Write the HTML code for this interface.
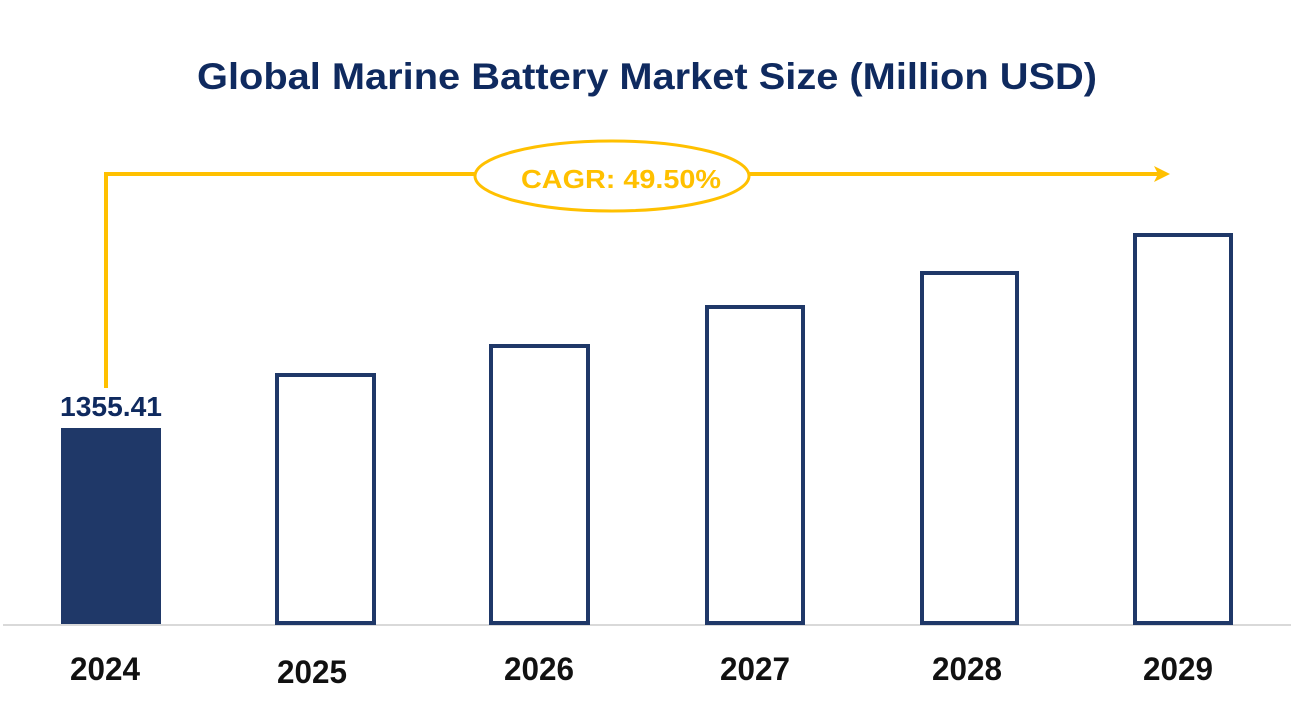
<!DOCTYPE html>
<html><head><style>body{margin:0;background:#fff}</style></head><body>
<svg width="1294" height="721" xmlns="http://www.w3.org/2000/svg" style="display:block">
<rect width="1294" height="721" fill="#fff"/>
<text x="647" y="89" text-anchor="middle" font-family="Liberation Sans Narrow, Liberation Sans, sans-serif" font-weight="bold" font-size="37" fill="#0f2a5f" textLength="900" lengthAdjust="spacingAndGlyphs">Global Marine Battery Market Size (Million USD)</text>
<line x1="3" y1="625" x2="1291" y2="625" stroke="#d9d9d9" stroke-width="2"/>
<rect x="61" y="428" width="100" height="196" fill="#1f3868"/>
<g fill="none" stroke="#1f3868" stroke-width="4">
<rect x="277" y="375" width="97" height="248"/>
<rect x="491" y="346" width="97" height="277"/>
<rect x="707" y="307" width="96" height="316"/>
<rect x="922" y="273" width="95" height="350"/>
<rect x="1135" y="235" width="96" height="388"/>
</g>
<text x="111" y="416" text-anchor="middle" font-family="Liberation Sans Narrow, Liberation Sans, sans-serif" font-weight="bold" font-size="28" fill="#0f2a5f" textLength="102" lengthAdjust="spacingAndGlyphs">1355.41</text>
<g fill="none" stroke="#ffc000" stroke-width="4">
<polyline points="106,388 106,174 476,174"/>
<line x1="748" y1="174" x2="1162" y2="174"/>
<ellipse cx="612" cy="176" rx="137" ry="35" stroke-width="3"/>
</g>
<polygon points="1170,174 1154,166 1158,174 1154,182" fill="#ffc000"/>
<text x="621" y="188" text-anchor="middle" font-family="Liberation Sans, sans-serif" font-weight="bold" font-size="26" fill="#ffc000" textLength="200" lengthAdjust="spacingAndGlyphs">CAGR: 49.50%</text>
<g font-family="Liberation Sans Narrow, Liberation Sans, sans-serif" font-weight="bold" font-size="32" fill="#111" text-anchor="middle">
<text x="105" y="680" textLength="70" lengthAdjust="spacingAndGlyphs">2024</text>
<text x="312" y="683" textLength="70" lengthAdjust="spacingAndGlyphs">2025</text>
<text x="539" y="680" textLength="70" lengthAdjust="spacingAndGlyphs">2026</text>
<text x="755" y="680" textLength="70" lengthAdjust="spacingAndGlyphs">2027</text>
<text x="967" y="680" textLength="70" lengthAdjust="spacingAndGlyphs">2028</text>
<text x="1178" y="680" textLength="70" lengthAdjust="spacingAndGlyphs">2029</text>
</g>
</svg>
</body></html>
